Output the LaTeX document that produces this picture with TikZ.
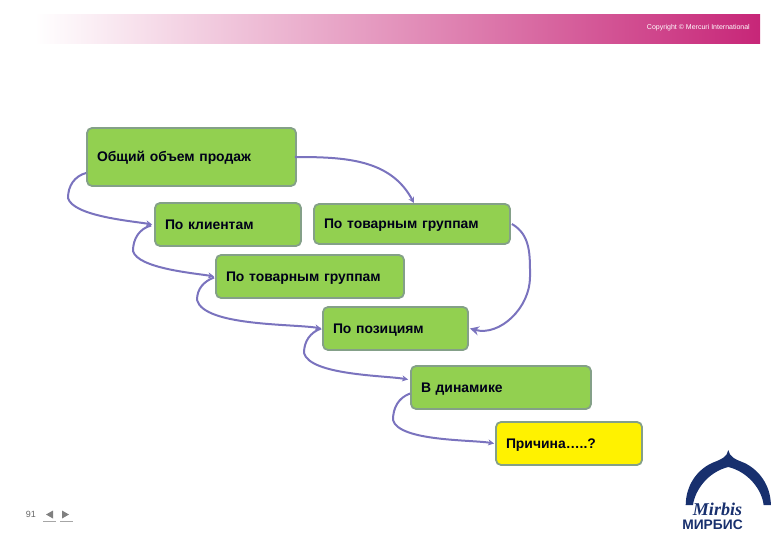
\documentclass[tikz,border=0pt]{standalone}
\usepackage{fontspec}
\setmainfont{Liberation Sans}
\newfontfamily\logoserif{Liberation Serif}
\usetikzlibrary{arrows.meta,calc}
\definecolor{boxgreen}{RGB}{146,208,80}
\definecolor{boxedge}{RGB}{132,160,136}
\definecolor{flowblue}{RGB}{122,115,190}
\definecolor{barpink}{RGB}{199,38,120}
\definecolor{barmid}{RGB}{215,135,165}
\definecolor{logonavy}{RGB}{24,48,110}

\begin{document}
\begin{tikzpicture}[x=1pt,y=-1pt,>=Stealth,
  box/.style 2 args={draw=boxedge,line width=1.8pt,fill=boxgreen,rounded corners=5pt,inner xsep=10pt,inner ysep=0pt,
    text width=#1pt-20pt,minimum height=#2pt,text height=10pt,text depth=0pt,align=left,font=\fontsize{13.9}{15}\selectfont\bfseries,text=black!90!blue},
  flow/.style={draw=flowblue,line width=2pt,-{Stealth[length=6pt,width=6pt]}}]
  \useasboundingbox (0,0) rectangle (780,540);
  \node[left color=white,middle color=barmid,right color=barpink,minimum width=725pt,minimum height=29pt,inner sep=0pt] (bar) at (397.5,29.5) {};
  \node[text=white,font=\fontsize{7}{8}\selectfont,anchor=east,inner sep=0pt] (copy) at (750,27.5) {Copyright © Mercuri International};

  \node[box={209}{58}] (total) at (191.5,157) {Общий объем продаж};
  \node[box={146}{43}] (clients) at (228,224.5) {По клиентам};
  \node[box={196}{40}] (groupsa) at (412,224) {По товарным группам};
  \node[box={188}{43}] (groupsb) at (310,276.5) {По товарным группам};
  \node[box={145}{43}] (items) at (395.5,328.5) {По позициям};
  \node[box={180}{43}] (trend) at (501,387.5) {В динамике};
  \node[box={146}{43},fill=yellow] (cause) at (569,443.5) {Причина…..?};

  \coordinate (bendA) at (68,198);
  \coordinate (bendB) at (133,251);
  \coordinate (bendC) at (197,300);
  \coordinate (bendD) at (304,353);
  \coordinate (bendE) at (393,420);
  \coordinate (bendF) at (530,277);

  \draw[flow] ([yshift=-16pt]total.west) to[out=195,in=90] (bendA) to[out=-75,in=170,looseness=0.55] ([xshift=-2pt]clients.west);
  \draw[flow] ([xshift=-3pt,yshift=-1pt]clients.west) to[out=195,in=90] (bendB) to[out=-75,in=170,looseness=0.55] ([xshift=-1pt]groupsb.west);
  \draw[flow] ([xshift=-1pt,yshift=-1pt]groupsb.west) to[out=200,in=90] (bendC) to[out=-75,in=170,looseness=0.55] ([xshift=-1pt]items.west);
  \draw[flow] ([xshift=-1pt]items.west) to[out=200,in=90] (bendD) to[out=-75,in=170,looseness=0.55] ([xshift=-2pt,yshift=8pt]trend.west);
  \draw[flow] ([yshift=-6pt]trend.west) to[out=200,in=90] (bendE) to[out=-75,in=170,looseness=0.55] ([xshift=-1pt]cause.west);
  \draw[flow] ([xshift=-2pt]total.east) to[out=0,in=118,looseness=1] ([xshift=2pt]groupsa.north);
  \draw[flow,-{Stealth[length=9pt,width=9pt]}] ([xshift=1pt]groupsa.east) to[out=-30,in=90] (bendF) to[out=-90,in=-15] ([xshift=1pt]items.east);

  \node[text=black!60,font=\fontsize{9}{10}\selectfont,inner sep=0pt] (page) at (31,514.5) {91};
  \fill[black!50] (53,510.5) -- (53,518.5) -- (46,514.5) -- cycle;
  \fill[black!50] (62,510.5) -- (62,518.5) -- (69,514.5) -- cycle;
  \draw[black!35,line width=0.7pt] (43,521) -- (56,521) (60,521) -- (73,521);

  \fill[logonavy] (728.3,450) .. controls (727,457) and (722,459) .. (712,463)
    .. controls (697,470) and (686,485) .. (685.7,505) -- (693,505)
    .. controls (695,490) and (708,472) .. (728.3,467)
    .. controls (748.6,472) and (762,490) .. (763.6,505) -- (770.9,505)
    .. controls (770.6,485) and (759,470) .. (744.6,463)
    .. controls (734.6,459) and (729.6,457) .. (728.3,450) -- cycle;
  \node[text=logonavy,font=\logoserif\fontsize{18}{19}\selectfont\bfseries\itshape,inner sep=0pt] (mirbis) at (717.5,509) {Mirbis};
  \node[text=logonavy,font=\fontsize{13.8}{15}\selectfont\bfseries,inner sep=0pt] (mirbisru) at (712.5,524.5) {МИРБИС};
\end{tikzpicture}
\end{document}
